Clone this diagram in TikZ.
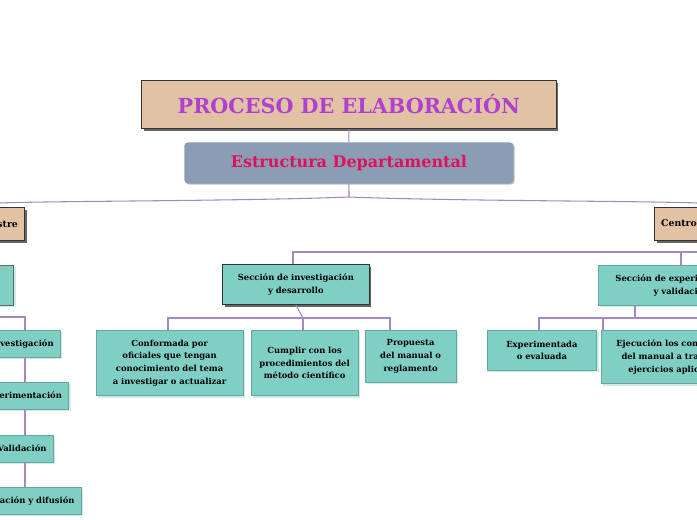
\documentclass[tikz,border=0pt]{standalone}
\usepackage{fontspec}
\setmainfont{DejaVu Serif}
\usetikzlibrary{shadows}
\definecolor{tan}{HTML}{E2C2A4}
\definecolor{teal}{HTML}{7FCFC4}
\definecolor{greyblue}{HTML}{8A9DB5}
\definecolor{ttl}{HTML}{B040D0}
\definecolor{crim}{HTML}{E0105A}
\definecolor{ln}{HTML}{A888C0}
\hyphenpenalty=10000
\tikzset{
 x=0.75pt,y=-0.75pt,
 tanbox/.style={draw=black!80,line width=0.8pt,fill=tan,anchor=north west,inner sep=0pt,align=center,font=\bfseries\fontsize{7}{9}\selectfont,drop shadow={shadow xshift=1.5pt,shadow yshift=-1.5pt,fill=black!60,opacity=1}},
 tealbox/.style={draw=teal!80!black,line width=0.4pt,fill=teal,anchor=north west,inner sep=2pt,inner xsep=5pt,align=center,font=\bfseries\fontsize{6.3}{9.5}\selectfont,drop shadow={shadow xshift=1.5pt,shadow yshift=-1.5pt,fill=teal!40,opacity=1}},
 darkteal/.style={tealbox,draw=black!80,line width=0.8pt,drop shadow={shadow xshift=1.5pt,shadow yshift=-1.5pt,fill=black!60,opacity=1}},
 conn/.style={draw=ln,line width=0.8pt}
}
\begin{document}
\begin{tikzpicture}
\useasboundingbox (0,0) rectangle (697,520);
\clip (0,0) rectangle (697,520);
% title
\node[tanbox,minimum width=311pt,minimum height=36pt,font=\bfseries\fontsize{15.5}{18}\selectfont,text=ttl] (t) at (141,80) {PROCESO DE ELABORACIÓN};
\node[anchor=north west,fill=greyblue,rounded corners=3pt,minimum width=247pt,minimum height=31pt,inner sep=0pt,font=\bfseries\fontsize{12}{15}\selectfont,text=crim,drop shadow={shadow xshift=0.8pt,shadow yshift=-0.8pt,fill=black!25,opacity=1}] (e) at (184,142) {Estructura Departamental};
\draw[conn] (t.south) -- (e.north);
% level 1
\node[tanbox,minimum width=150pt,minimum height=25pt,text width=140pt,align=right] (L) at (-176,207) {Sección de Doctrina Terrestre};
\node[tanbox,minimum width=150pt,minimum height=25pt,text width=140pt,align=left] (R) at (654,207) {Centro de Experimentación};
\coordinate (ej) at (349,197);
\draw[conn] (e.south) -- (ej);
\draw[conn] (ej) .. controls (250,201) and (50,201) .. (0,203);
\draw[conn] (ej) .. controls (450,201) and (650,201) .. (697,203);
% left branch
\node[tealbox,draw=black!60,minimum width=100pt,minimum height=30pt] (ls) at (-120,265) {};
\node[tealbox,anchor=north,minimum height=20pt] (l1) at (22,330) {Investigación};
\node[tealbox,anchor=north,minimum height=20pt] (l2) at (22,382) {Experimentación};
\node[tealbox,anchor=north,minimum height=20pt] (l3) at (22,435) {Validación};
\node[tealbox,anchor=north,minimum height=20pt] (l4) at (22,487) {Divulgación y difusión};
\coordinate (lj) at (25,317);
\draw[conn] (0,317) -- (lj) -- (l1.north -| lj);
\draw[conn] (l1.south -| lj) -- (l2.north -| lj) (l2.south -| lj) -- (l3.north -| lj) (l3.south -| lj) -- (l4.north -| lj);
% middle branch
\coordinate (rj) at (293,252);
\draw[conn] (697,252) -- (rj) -- (293,264);
\node[darkteal,minimum width=105pt,minimum height=30pt,text width=100pt] (si) at (222,264) {Sección de investigación y desarrollo};
\coordinate (mj) at (303,318);
\draw[conn] (si.south) -- (mj);
\draw[conn] (168,330) -- (168,318) -- (390,318) -- (390,330);
\draw[conn] (mj) -- (303,330);
\node[tealbox,minimum width=109pt,minimum height=49pt,text width=100pt] (m1) at (96,330) {Conformada por oficiales que tengan conocimiento del tema a investigar o actualizar};
\node[tealbox,minimum width=78pt,minimum height=49pt,text width=70pt] (m2) at (251,330) {Cumplir con los procedimientos del método científico};
\node[tealbox,minimum width=64pt,minimum height=39pt,text width=58pt] (m3) at (365,330) {Propuesta del manual o reglamento};
% right branch
\draw[conn] (681,252) -- (681,265);
\node[tealbox,minimum width=125pt,minimum height=30pt,text width=115pt] (se) at (598,265) {Sección de experimentación y validación};
\draw[conn] (635,305) -- (635,318);
\draw[conn] (539,330) -- (539,318) -- (697,318);
\draw[conn] (603,318) -- (603,330);
\node[tealbox,minimum width=77pt,minimum height=30pt,text width=72pt] (r1) at (487,330) {Experimentada o evaluada};
\node[tealbox,minimum width=105pt,minimum height=40pt,text width=100pt] (r2) at (601,330) {Ejecución los contenidos del manual a través de ejercicios aplicados};
\end{tikzpicture}
\end{document}
